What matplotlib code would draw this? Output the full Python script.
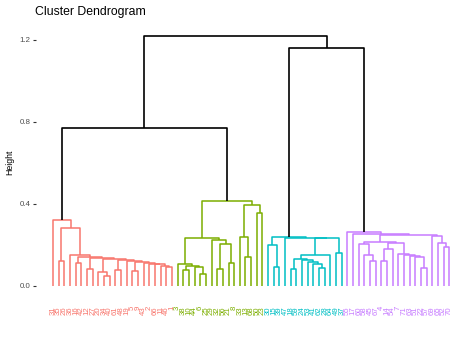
import matplotlib.pyplot as plt

plt.rcParams['font.family'] = ['Liberation Sans', 'DejaVu Sans']

# leaf labels in dendrogram order
labels = [31, 35, 26, 36, 16, 42, 12, 27, 20, 34, 40, 61, 48, 19, 5, 9, 43, 2, 66, 11, 46, 1,
          3, 38, 10, 44, 6, 25, 29, 32, 56, 21, 8, 33, 13, 68, 50, 23,
          30, 15, 39, 47, 18, 59, 24, 53, 41, 62, 28, 64, 49, 37,
          55, 17, 60, 58, 45, 67, 4, 14, 54, 7, 71, 63, 51, 22, 57, 69, 65, 52, 70]

# merges as (height, left, right); ints index into labels
red = (0.32, 0, (0.285, (0.122, 1, 2), (0.150, 3, (0.143, (0.114, 4, 5), (0.138, (0.083, 6, 7),
       (0.132, (0.07, 8, (0.049, 9, 10)), (0.128, (0.078, 11, 12), (0.122, 13, (0.118, (0.075, 14, 15),
       (0.112, 16, (0.108, 17, (0.105, 18, (0.10, 19, (0.095, 20, 21))))))))))))))
green = (0.416, (0.235, (0.107, 22, (0.098, (0.078, 23, 24), (0.091, 25, (0.057, 26, 27)))),
         (0.225, 28, (0.205, (0.083, 29, 30), (0.112, 31, 32)))),
         (0.395, (0.24, 33, (0.143, 34, 35)), (0.356, 36, 37)))
cyan = (0.24, (0.20, 38, (0.091, 39, 40)), (0.236, 41, (0.232, (0.152, (0.13, (0.085, 42, 43),
        (0.125, 44, (0.115, 45, (0.105, 46, (0.09, 47, 48))))), 49), (0.16, 50, 51))))
purple = (0.265, 52, (0.254, 53, (0.25, (0.216, (0.205, 54, (0.15, 55, (0.12, 56, 57))),
          (0.21, (0.18, (0.12, 58, 59), 60), (0.155, 61, (0.15, 62, (0.145, 63, (0.14, 64, (0.09, 65, 66))))))),
          (0.245, 67, (0.211, 68, (0.19, 69, 70))))))

clusters = [red, green, cyan, purple]
cluster_colors = ['#F8766D', '#7CAE00', '#00BFC4', '#C77CFF']
top_heights = [0.77, 1.16, 1.22]  # red+green, cyan+purple, root

fig = plt.figure(figsize=(4.74, 3.38), dpi=100)
W, H = 474, 338
ax = fig.add_axes([36 / W, 8 / H, (465 - 36) / W, (330 - 30) / H])

leaf_x = {}
leaf_col = {}


def place(node, col):
    # give leaves consecutive x positions in traversal order
    if isinstance(node, int):
        leaf_x[node] = len(leaf_x) + 1
        leaf_col[node] = col
        return
    place(node[1], col)
    place(node[2], col)


def draw(node, col, lw=1.1):
    if isinstance(node, int):
        return leaf_x[node], 0.0
    h = node[0]
    xl, hl = draw(node[1], col, lw)
    xr, hr = draw(node[2], col, lw)
    ax.plot([xl, xl, xr, xr], [hl, h, h, hr], color=col, lw=lw, solid_capstyle='butt')
    return (xl + xr) / 2, h


for tree, c in zip(clusters, cluster_colors):
    place(tree, c)

centers = [draw(tree, c) for tree, c in zip(clusters, cluster_colors)]


def join(a, b, h):
    ax.plot([a[0], a[0], b[0], b[0]], [a[1], h, h, b[1]], color='black', lw=1.2, solid_capstyle='butt')
    return (a[0] + b[0]) / 2, h


left = join(centers[0], centers[1], top_heights[0])
right = join(centers[2], centers[3], top_heights[1])
join(left, right, top_heights[2])

for i, lab in enumerate(labels):
    ax.text(leaf_x[i], -0.098, str(lab), rotation=90, ha='center', va='top',
            fontsize=5.6, color=leaf_col[i], clip_on=False)

sp = 5.661
ax.set_xlim(1 - (53 - 36) / sp, 71 + (465 - 449.3) / sp)
ax.set_ylim((286 - 330) / 205, (286 - 30) / 205)
ax.set_yticks([0.0, 0.4, 0.8, 1.2])
ax.set_yticklabels(['0.0', '0.4', '0.8', '1.2'])
ax.tick_params(axis='y', length=2.5, width=0.8, color='#333333', labelsize=5.7,
               labelcolor='#4D4D4D', pad=1.5)
ax.set_xticks([])
for s in ax.spines.values():
    s.set_visible(False)

fig.text(10 / W, 1 - 162 / H, 'Height', rotation=90, ha='center', va='center', fontsize=6.3)
fig.text(35 / W, 1 - 15 / H, 'Cluster Dendrogram', ha='left', va='baseline', fontsize=8.8)

fig.savefig('out.png', dpi=100)
